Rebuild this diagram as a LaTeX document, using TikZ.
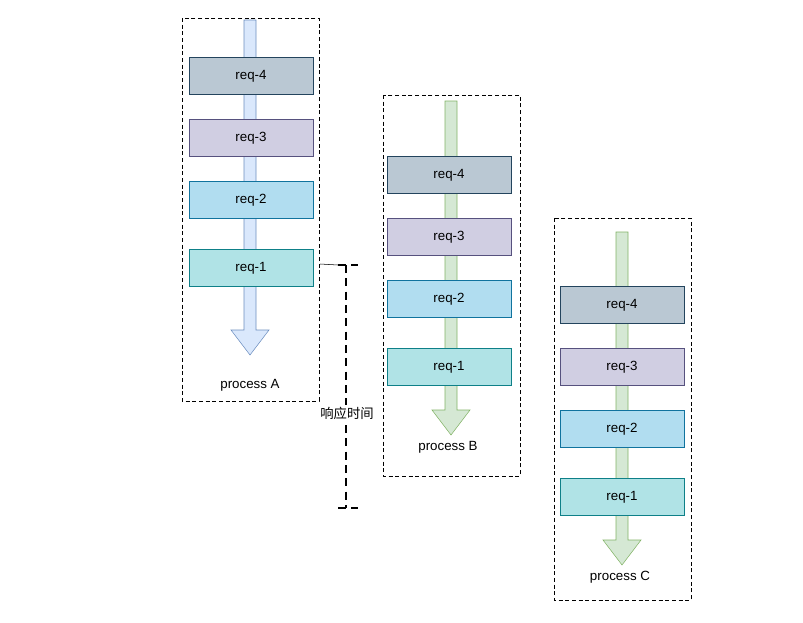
\documentclass[tikz,border=0pt]{standalone}
\usepackage{fontspec}
\setmainfont{Liberation Sans}
\newfontfamily\cjk{Noto Sans CJK SC}
\definecolor{c4f}{HTML}{BAC8D3}\definecolor{c4d}{HTML}{23445D}
\definecolor{c3f}{HTML}{D0CEE2}\definecolor{c3d}{HTML}{56517E}
\definecolor{c2f}{HTML}{B1DDF0}\definecolor{c2d}{HTML}{10739E}
\definecolor{c1f}{HTML}{B0E3E6}\definecolor{c1d}{HTML}{0E8088}
\definecolor{bluef}{HTML}{DAE8FC}\definecolor{blued}{HTML}{6C8EBF}
\definecolor{greenf}{HTML}{D5E8D4}\definecolor{greend}{HTML}{82B366}
\begin{document}
\begin{tikzpicture}[x=0.75pt,y=-0.75pt,
  req/.style={draw=#1d,fill=#1f,minimum width=93pt,minimum height=28pt,inner sep=0pt,font=\fontsize{10}{12}\selectfont},
  frame/.style={draw,densely dashed,thin},
  lbl/.style={font=\fontsize{10}{12}\selectfont}]
\useasboundingbox (0,0) rectangle (803,622);
\newcommand\proc[8]{% #1 xleft, #2 ytop, #3 ybottom, #4 arrow top, #5 head start, #6 head end, #7 colour, #8 name
  \draw[frame] (#1,#2) rectangle ++(137,#3-#2);
  \pgfmathsetmacro\cx{#1+68}
  \draw[draw=#7d,fill=#7f] (\cx-6,#4) -- (\cx+6,#4) -- (\cx+6,#5) -- (\cx+19,#5) -- (\cx,#6) -- (\cx-19,#5) -- (\cx-6,#5) -- cycle;
}
% process A
\proc{182}{18}{401}{20}{330}{355}{blue}{A}
\node[req=c4] (a4) at (251,76) {req-4};
\node[req=c3] (a3) at (251,138) {req-3};
\node[req=c2] (a2) at (251,200) {req-2};
\node[req=c1] (a1) at (251,268) {req-1};
\node[lbl] (pa) at (250,385) {process A};
% process B
\proc{383}{95}{476}{101}{410}{435}{green}{B}
\node[req=c4] (b4) at (449,175) {req-4};
\node[req=c3] (b3) at (449,237) {req-3};
\node[req=c2] (b2) at (449,299) {req-2};
\node[req=c1] (b1) at (449,367) {req-1};
\node[lbl] (pb) at (448,447) {process B};
% process C
\proc{554}{218}{600}{232}{540}{565}{green}{C}
\node[req=c4] (c4) at (622,305) {req-4};
\node[req=c3] (c3) at (622,367) {req-3};
\node[req=c2] (c2) at (622,429) {req-2};
\node[req=c1] (c1) at (622,497) {req-1};
\node[lbl] (pc) at (620,577) {process C};
% bracket
\coordinate (t0) at (320,264);
\coordinate (t1) at (338,265);
\coordinate (t2) at (358,265);
\coordinate (tm) at (346,265);
\coordinate (b0) at (338,508);
\coordinate (b2) at (358,508);
\coordinate (bm) at (346,508);
\draw[thin] (t0) -- (t1);
\draw[line width=1.5pt,dash pattern=on 6pt off 4pt] (t1) -- (t2) (tm) -- (bm) (b0) -- (b2);
\node[fill=white,inner sep=1pt,font=\cjk\fontsize{10}{12}\selectfont] (rt) at (347,413) {响应时间};
\end{tikzpicture}
\end{document}
